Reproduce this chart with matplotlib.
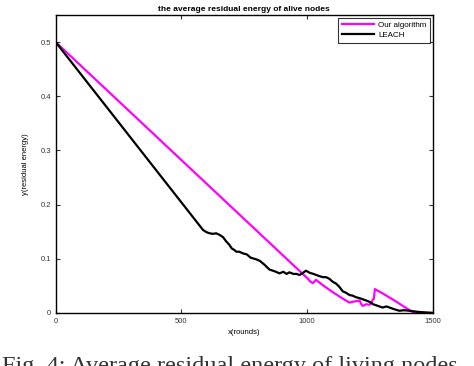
import matplotlib.pyplot as plt

# --[data]-----------------------------------------------------------------------
ours_x = [0, 1005, 1012, 1022, 1035, 1060, 1090, 1129, 1150, 1168, 1185, 1200, 1208,
          1214, 1220, 1235, 1247, 1255, 1260, 1265, 1269, 1300, 1350, 1390, 1418, 1450, 1500]
ours_y = [0.5, 0.062, 0.058, 0.055, 0.061, 0.052, 0.042, 0.030, 0.024, 0.019, 0.021, 0.022, 0.023,
          0.017, 0.013, 0.016, 0.015, 0.018, 0.024, 0.026, 0.044, 0.036, 0.022, 0.010, 0.002, 0.0, 0.0]

leach_x = [0, 586, 600, 612, 625, 638, 652, 665, 678, 690, 700, 711, 718, 730, 744, 760,
           775, 797, 812, 830, 850, 870, 890, 905, 918, 929, 945, 958, 969, 980, 995, 1010,
           1025, 1048, 1062, 1075, 1088, 1100, 1115, 1128, 1141, 1155, 1168, 1180, 1194, 1210,
           1222, 1234, 1250, 1262, 1275, 1287, 1300, 1315, 1327, 1345, 1366, 1385, 1406, 1440,
           1470, 1500]
leach_y = [0.5, 0.153, 0.149, 0.147, 0.146, 0.147, 0.144, 0.140, 0.132, 0.126, 0.119, 0.116, 0.113,
           0.113, 0.110, 0.108, 0.102, 0.099, 0.096, 0.089, 0.080, 0.077, 0.073, 0.076, 0.072,
           0.075, 0.072, 0.072, 0.070, 0.073, 0.078, 0.074, 0.072, 0.068, 0.066, 0.066, 0.063,
           0.058, 0.054, 0.048, 0.040, 0.037, 0.033, 0.032, 0.029, 0.027, 0.025, 0.023, 0.020,
           0.016, 0.014, 0.012, 0.010, 0.012, 0.010, 0.007, 0.004, 0.005, 0.004, 0.002, 0.001, 0.0]

x_ticks = [0, 500, 1000, 1500]
y_ticks = [0, 0.1, 0.2, 0.3, 0.4, 0.5]

# --[plot]-----------------------------------------------------------------------
plt.rcParams['font.family'] = ['Liberation Sans', 'DejaVu Sans']
fig = plt.figure(figsize=(4.74, 3.66), dpi=100)
ax = fig.add_axes([0.1175, 0.145, 0.796, 0.814])

ax.plot(ours_x, ours_y, color='#ff00ff', linewidth=1.6, label='Our algorithm')
ax.plot(leach_x, leach_y, color='black', linewidth=1.6, label='LEACH')

ax.set_xlim(0, 1500)
ax.set_ylim(0, 0.55)
ax.set_xticks(x_ticks)
ax.set_yticks(y_ticks)
ax.set_xticklabels([str(t) for t in x_ticks])
ax.set_yticklabels(['0', '0.1', '0.2', '0.3', '0.4', '0.5'])
ax.tick_params(direction='in', top=True, right=True, labelsize=5.5, length=3, width=0.8,
               colors='#333333', labelcolor='#333333')
for s in ax.spines.values():
    s.set_linewidth(1.0)

ax.set_title('the average residual energy of alive nodes', fontsize=6, fontweight='bold', pad=3)
ax.set_xlabel('x(rounds)', fontsize=5.5, labelpad=3)
ax.set_ylabel('y(residual energy)', fontsize=5.5, labelpad=8)

leg = ax.legend(loc='upper right', fontsize=5.8, frameon=True, fancybox=False,
                edgecolor='black', handlelength=4.0, handletextpad=0.5, borderpad=0.45,
                labelspacing=0.3, borderaxespad=0.35)
leg.get_frame().set_linewidth(0.8)

fig.text(0.005, -0.017, 'Fig. 4: Average residual energy of living nodes', fontsize=17.5,
         family=['Liberation Serif', 'DejaVu Serif'], color='#333333', va='baseline')

fig.savefig('out.png', dpi=100)
